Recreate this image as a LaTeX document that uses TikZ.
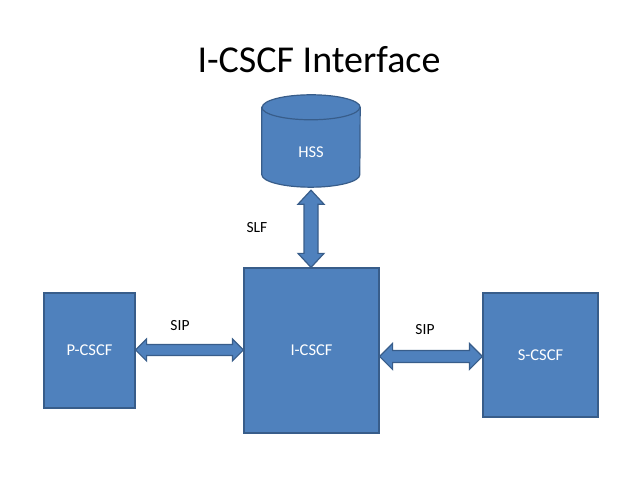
\documentclass[tikz,border=0pt]{standalone}
\usepackage{fontspec}
\setmainfont{Carlito}
\usetikzlibrary{calc}
\definecolor{boxfill}{HTML}{4F81BD}
\definecolor{boxline}{HTML}{385D8A}
\tikzset{
  x=1pt, y=1pt,
  blk/.style={fill=boxfill, draw=boxline, line width=1.2pt, text=white, font=\fontsize{16.5}{19}\selectfont, inner sep=0pt},
  arr/.style={fill=boxfill, draw=boxline, line width=1.2pt, line join=miter},
  lbl/.style={font=\fontsize{15.5}{18}\selectfont, text=black, inner sep=0pt},
}
\begin{document}
\begin{tikzpicture}
\useasboundingbox (0,0) rectangle (638,478);
\node[font=\fontsize{38}{44}\selectfont] (title) at (319,418) {I-CSCF Interface};
% boxes
\node[blk, minimum width=91, minimum height=115] (p) at (89.5,127.5) {P-CSCF};
\node[blk, minimum width=135, minimum height=165] (i) at (311.5,127.5) {I-CSCF};
\node[blk, minimum width=115, minimum height=124] (s) at (540.5,123) {S-CSCF};
% HSS cylinder
\node[minimum width=98, minimum height=92, inner sep=0pt] (hss) at (311,337) {};
\draw[arr] ($(hss.north west)+(0,-12.5)$) -- ($(hss.south west)+(0,12.5)$)
  arc (180:360:49 and 12.5) -- ($(hss.north east)+(0,-12.5)$)
  arc (0:180:49 and 12.5) -- cycle;
\draw[boxline, line width=1.2pt] ($(hss.north west)+(0,-12.5)$) arc (180:360:49 and 12.5);
\node[blk, fill=none, draw=none] (hsst) at (311,326) {HSS};
% vertical double arrow
\draw[arr] let \p1=(hss.south), \p2=(i.north) in
  (\x1,\y1-3) -- (\x1+13,\y1-17) -- (\x1+7,\y1-17) -- (\x1+7,\y2+14) -- (\x1+13,\y2+14)
  -- (\x1,\y2) -- (\x1-13,\y2+14) -- (\x1-7,\y2+14) -- (\x1-7,\y1-17) -- (\x1-13,\y1-17) -- cycle;
% left double arrow
\draw[arr] let \p1=(p.east), \p2=(i.west) in
  (\x1,128) -- (\x1+11,139) -- (\x1+11,133.5) -- (\x2-11,133.5) -- (\x2-11,139)
  -- (\x2,128) -- (\x2-11,117) -- (\x2-11,122.5) -- (\x1+11,122.5) -- (\x1+11,117) -- cycle;
% right double arrow
\draw[arr] let \p1=(i.east), \p2=(s.west) in
  (\x1,121.5) -- (\x1+13,134.5) -- (\x1+13,127.5) -- (\x2-13,127.5) -- (\x2-13,134.5)
  -- (\x2,121.5) -- (\x2-13,108.5) -- (\x2-13,115.5) -- (\x1+13,115.5) -- (\x1+13,108.5) -- cycle;
% labels
\node[lbl] (slf) at (257,250) {SLF};
\node[lbl] (sip1) at (180,152) {SIP};
\node[lbl] (sip2) at (425,148) {SIP};
\end{tikzpicture}
\end{document}
